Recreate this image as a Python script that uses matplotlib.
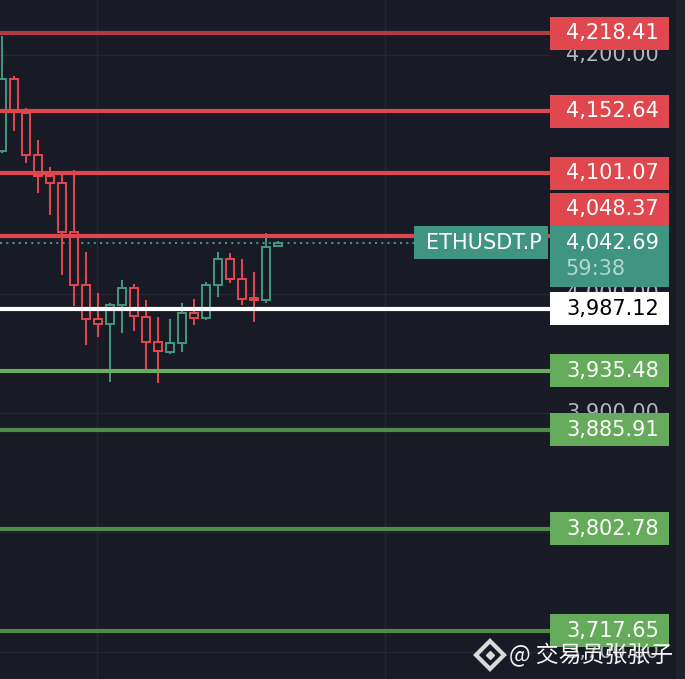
import matplotlib
matplotlib.use("Agg")
import matplotlib.pyplot as plt
import matplotlib.transforms as mtransforms
from matplotlib.patches import Rectangle
import numpy as np

# --- data -----------------------------------------------------------------
opens  = [4119.6, 4179.9, 4151.4, 4116.2, 4098.6, 4092.8, 4051.7, 4007.3, 3978.9, 3974.7, 3990.6, 4004.8,
          3980.5, 3959.6, 3951.3, 3958.8, 3983.9, 3979.7, 4007.3, 4029.1, 4012.4, 3996.5, 3994.8, 4039.5]
highs  = [4215.9, 4182.4, 4155.6, 4128.8, 4106.2, 4100.3, 4103.7, 4035.0, 4000.7, 3992.3, 4011.5, 4008.2,
          3994.8, 3980.5, 3978.9, 3992.3, 3995.6, 4009.9, 4035.0, 4034.2, 4029.1, 4018.2, 4050.9, 4044.0]
lows   = [4118.0, 4136.3, 4109.5, 4084.4, 4066.0, 4015.7, 3989.8, 3957.1, 3963.8, 3926.1, 3967.2, 3968.8,
          3934.5, 3925.3, 3949.6, 3951.3, 3973.8, 3978.0, 3997.3, 4009.0, 3990.6, 3976.4, 3992.3, 4039.5]
closes = [4179.9, 4153.9, 4116.2, 4098.6, 4092.8, 4051.7, 4007.3, 3978.9, 3974.7, 3990.6, 4004.8, 3981.4,
          3959.6, 3952.1, 3958.8, 3983.9, 3979.7, 4007.3, 4029.1, 4012.4, 3995.6, 3994.8, 4039.2, 4042.69]

symbol = "ETHUSDT.P"
cur_price = 4042.69
countdown = "59:38"

resist_levels = [4218.41, 4152.64, 4101.07, 4048.37]
resist_colors = ["#b23b41", "#e0464e", "#e0464e", "#e0464e"]
pivot_level = 3987.12
support_levels = [3935.48, 3885.91, 3802.78, 3717.65]
support_colors = ["#6aab5d", "#4f8a47", "#4f8a47", "#4f8a47"]

grid_prices = [4200, 4100, 4000, 3900, 3800, 3700]
tick_prices = [4200, 4000, 3900, 3700]   # 4,100 and 3,800 sit fully behind level tags
time_grid = [7.92, 31.92]
watermark = "@ 交易员张张子"

# --- style ----------------------------------------------------------------
BG = "#181a25"
GRID = "#242733"
UP = "#40957f"
DOWN = "#e0464e"
LBL_RED = "#e0474f"
LBL_GREEN = "#66ab5c"
TEAL = "#3f9482"

W, H = 685, 679
PX = 1.1932  # pixels per price unit
fig = plt.figure(figsize=(W / 100, H / 100), dpi=100, facecolor=BG)
ax = fig.add_axes([0, 0, 1, 1])
ax.set_facecolor(BG)
ax.set_xlim(-2 / 12, (W - 2) / 12)
ax.set_ylim(4218.41 - (H - 33) / PX, 4218.41 + 33 / PX)
ax.axis("off")

chart_end = 550 / W
lab_x0, lab_x1 = 550 / W, 669 / W
lab_cx = 612.5 / W
half = 16.5 / PX
trans = mtransforms.blended_transform_factory(ax.transAxes, ax.transData)

# grid
for p in grid_prices:
    ax.axhline(p, xmin=0, xmax=chart_end, color=GRID, lw=1, zorder=1)
for t in time_grid:
    ax.axvline(t, color=GRID, lw=1, zorder=1, ymin=0, ymax=1)

# price scale tick labels
for p in tick_prices:
    ax.text(lab_cx, p, f"{p:,.2f}", transform=trans, ha="center", va="center",
            fontsize=15, color="#b2b5be", zorder=2)

# candles
x = np.arange(len(opens))
cols = [UP if c >= o else DOWN for o, c in zip(opens, closes)]
ax.vlines(x, lows, highs, colors=cols, lw=1.45, zorder=3)
bottoms = [min(o, c) for o, c in zip(opens, closes)]
heights = [max(abs(c - o), 0.6) for o, c in zip(opens, closes)]
ax.bar(x, heights, bottom=bottoms, width=0.67, facecolor=BG, edgecolor=cols, lw=1.45, zorder=4)

# last price dotted line
ax.axhline(cur_price, xmin=0, xmax=chart_end, color=TEAL, lw=1.5, ls=(0, (1, 2)), zorder=2)

# level lines
for p, c in zip(resist_levels, resist_colors):
    ax.axhline(p, xmin=0, xmax=chart_end, color=c, lw=3, zorder=5)
for p, c in zip(support_levels, support_colors):
    ax.axhline(p, xmin=0, xmax=chart_end, color=c, lw=3, zorder=5)
ax.axhline(pivot_level, xmin=0, xmax=chart_end, color="white", lw=3, zorder=5)


def label(y, text, face, fg, x0=lab_x0, x1=lab_x1, top=half, bot=half):
    ax.add_patch(Rectangle((x0, y - bot), x1 - x0, top + bot, transform=trans,
                           facecolor=face, edgecolor="none", zorder=6))
    ax.text((x0 + x1) / 2 + 3 / W, y, text, transform=trans, ha="center", va="center",
            fontsize=15, color=fg, zorder=7)


# current price box
cur_top = 16.8 / PX
cur_bot = 44.2 / PX
ax.add_patch(Rectangle((lab_x0, cur_price - cur_bot), lab_x1 - lab_x0, cur_top + cur_bot,
                       transform=trans, facecolor=TEAL, edgecolor="none", zorder=6))
ax.text(lab_cx, cur_price, f"{cur_price:,.2f}", transform=trans, ha="center", va="center",
        fontsize=15, color="white", zorder=7)
ax.text(lab_cx - 17 / W, cur_price - 26.5 / PX, countdown, transform=trans, ha="center", va="center",
        fontsize=15, color="#b4d8cd", zorder=7)
label(cur_price, symbol, TEAL, "white", x0=414 / W, x1=548 / W, top=cur_top, bot=16.2 / PX)

for p in resist_levels:
    y = p
    if abs(p - cur_price) < 2 * half:
        y = cur_price + cur_top + half
    label(y, f"{p:,.2f}", LBL_RED, "white")
label(pivot_level, f"{pivot_level:,.2f}", "white", "black")
for p in support_levels:
    label(p, f"{p:,.2f}", LBL_GREEN, "white")

# right edge strip
fig.patches.append(Rectangle((676 / W, 0), 9 / W, 1, transform=fig.transFigure,
                             facecolor="#1f222b", edgecolor="none", zorder=0))

# watermark
wy = 1 - 655 / H
lx = 490 / W
fig.lines.append(plt.Line2D([lx], [wy], marker="D", ms=14, mfc="none", mec="#d6dbd8",
                            mew=3, transform=fig.transFigure, zorder=10))
fig.lines.append(plt.Line2D([lx], [wy], marker="D", ms=4, mfc="#d6dbd8", mec="#d6dbd8",
                            transform=fig.transFigure, zorder=10))
fig.text(509 / W, wy, watermark, ha="left", va="center", fontsize=16.5, color="white",
         family=["Noto Sans CJK SC", "DejaVu Sans"], alpha=0.95, zorder=10)

fig.savefig("out.png", dpi=100, facecolor=BG)
